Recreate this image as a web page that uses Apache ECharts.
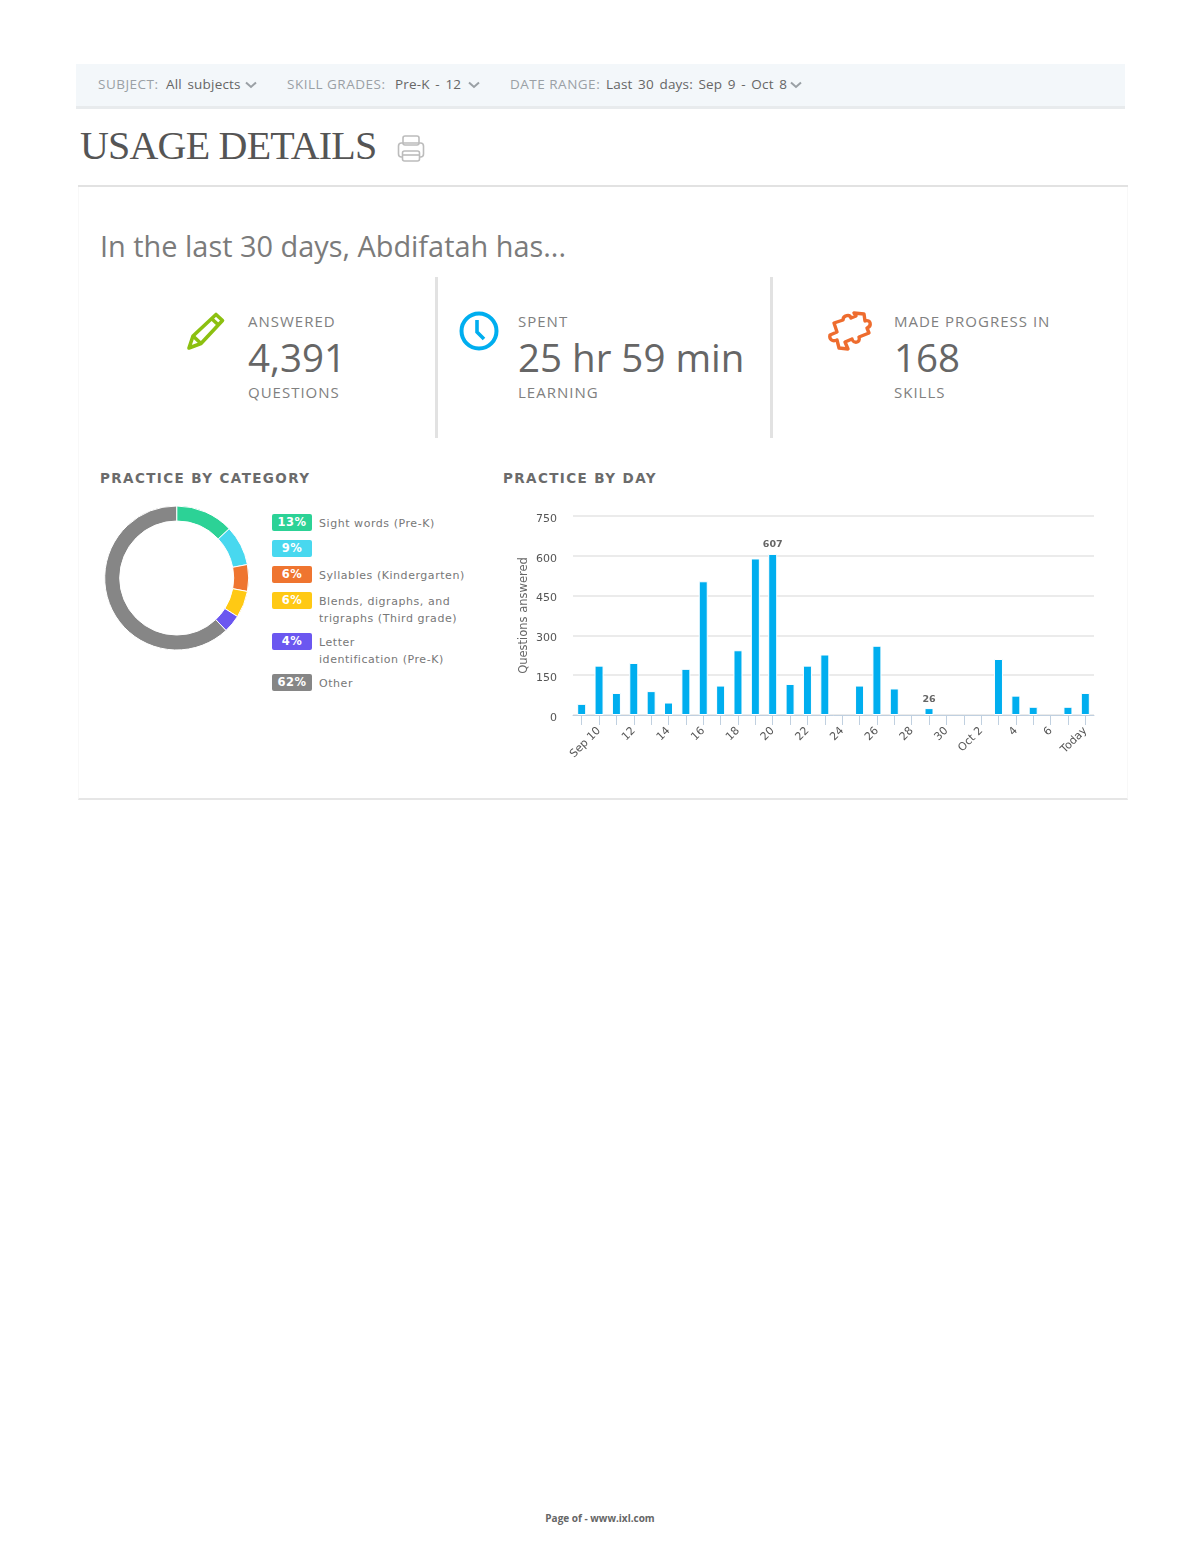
<!DOCTYPE html>
<html>
<head>
<meta charset="UTF-8">
<style>
html,body{margin:0;padding:0;background:#fff;}
body{position:relative;width:1200px;height:1553px;overflow:hidden;font-family:"Open Sans",sans-serif;color:#777;}
.t{position:absolute;white-space:nowrap;line-height:20px;}
.lab{font-size:15px;color:#808080;letter-spacing:1px;}
.num{font-size:38.5px;color:#666;line-height:44px;}
.fl{font-size:13.5px;color:#9aa0a5;letter-spacing:.5px;}
.fv{font-size:13.5px;color:#666;letter-spacing:.2px;word-spacing:1.8px;}
.head{font-weight:bold;color:#6b6b6b;letter-spacing:1.4px;font-family:"DejaVu Sans",sans-serif;font-size:13.5px;}
.box{position:absolute;}
.chip{position:absolute;left:272px;width:40px;height:17px;border-radius:2px;color:#fff;font-size:11.5px;font-weight:bold;line-height:17px;text-align:center;letter-spacing:.5px;font-family:"DejaVu Sans",sans-serif;}
.lg{position:absolute;left:319px;font-size:11px;line-height:17px;color:#777;letter-spacing:.55px;white-space:nowrap;font-family:"DejaVu Sans",sans-serif;}
svg{position:absolute;overflow:visible;}
</style>
</head>
<body>
<!-- filter bar -->
<div class="box" style="left:76px;top:64px;width:1049px;height:42px;background:#f3f7fa;border-bottom:3px solid #e8ebed;"></div>
<div class="t fl" style="left:98px;top:74px;">SUBJECT:</div>
<div class="t fv" style="left:166px;top:74px;">All subjects</div>
<div class="t fl" style="left:287px;top:74px;">SKILL GRADES:</div>
<div class="t fv" style="left:395px;top:74px;">Pre-K - 12</div>
<div class="t fl" style="left:510px;top:74px;">DATE RANGE:</div>
<div class="t fv" style="left:606px;top:74px;">Last 30 days: Sep 9 - Oct 8</div>
<svg style="left:245px;top:81px" width="12" height="8"><path d="M1 1.5 L6 6 L11 1.5" fill="none" stroke="#9aa0a5" stroke-width="2"/></svg>
<svg style="left:468px;top:81px" width="12" height="8"><path d="M1 1.5 L6 6 L11 1.5" fill="none" stroke="#9aa0a5" stroke-width="2"/></svg>
<svg style="left:790px;top:81px" width="12" height="8"><path d="M1 1.5 L6 6 L11 1.5" fill="none" stroke="#9aa0a5" stroke-width="2"/></svg>

<!-- title -->
<div class="t" style="left:80px;top:125px;line-height:42px;font-family:'Liberation Serif',serif;font-size:40px;letter-spacing:-.8px;color:#555;">USAGE DETAILS</div>
<svg style="left:397px;top:135px" width="28" height="28" fill="none" stroke="#bcbcbc" stroke-width="1.6">
  <rect x="6" y="1" width="16" height="9" rx="2"/>
  <rect x="1.5" y="8" width="25" height="14" rx="3"/>
  <rect x="5.5" y="16" width="17" height="10" rx="2" fill="#fff"/>
  <line x1="5.5" y1="20" x2="22.5" y2="20"/>
</svg>
<div class="box" style="left:78px;top:185px;width:1050px;height:2px;background:#e2e2e2;"></div>

<!-- panel -->
<div class="box" style="left:78px;top:187px;width:1048px;height:611px;border:1px solid #f8f8f8;border-top:none;border-bottom:2px solid #e6e6e6;"></div>
<div class="t" style="left:100px;top:226px;line-height:40px;font-size:28.9px;color:#7b7b7b;">In the last 30 days, Abdifatah has...</div>
<div class="box" style="left:435px;top:277px;width:3px;height:161px;background:#e2e2e2;"></div>
<div class="box" style="left:770px;top:277px;width:3px;height:161px;background:#e2e2e2;"></div>

<!-- pencil -->
<svg style="left:187px;top:312px" width="38" height="38" fill="none" stroke="#8cc010" stroke-width="3.6" stroke-linejoin="round">
  <path d="M29 2.5 L35.5 8.5 L14 31.5 L2 36 L6 24 Z"/>
  <path d="M25 7 L31.5 13"/>
  <path d="M6 24 L14 31.5"/>
</svg>
<div class="t lab" style="left:248px;top:311px;">ANSWERED</div>
<div class="t num" style="left:248px;top:335px;">4,391</div>
<div class="t lab" style="left:248px;top:382px;">QUESTIONS</div>

<!-- clock -->
<svg style="left:459px;top:311px" width="40" height="40" fill="none" stroke="#00aeef" stroke-width="4">
  <circle cx="20" cy="20" r="17.5"/>
  <path d="M18 9 L18 21 L25 28" stroke-width="3.6"/>
</svg>
<div class="t lab" style="left:518px;top:311px;">SPENT</div>
<div class="t num" style="left:518px;top:335px;">25 hr 59 min</div>
<div class="t lab" style="left:518px;top:382px;">LEARNING</div>

<!-- puzzle -->
<svg style="left:828px;top:312px" width="44" height="38" fill="none" stroke="#ee6c2e" stroke-width="3.4" stroke-linejoin="round">
  <path d="M2 23 L9 20 L6 11 L15 8 C15 3 22 2 23 6 L28 4 L26 1 L36 2 L37 9 C43 7 44 14 39 16 L41 21 L31 25 C33 31 25 32 24 27 L17 30 L20 37 L11 36 L9 28 C4 30 1 27 2 23 Z"/>
</svg>
<div class="t lab" style="left:894px;top:311px;">MADE PROGRESS IN</div>
<div class="t num" style="left:894px;top:335px;">168</div>
<div class="t lab" style="left:894px;top:382px;">SKILLS</div>

<div class="t head" style="left:100px;top:468px;">PRACTICE BY CATEGORY</div>
<div class="t head" style="left:503px;top:468px;">PRACTICE BY DAY</div>

<div id="donut_div" class="box" style="left:90px;top:495px;width:175px;height:170px;"></div>
<div id="legend_div"></div>
<div id="bar_div" class="box" style="left:500px;top:500px;width:640px;height:280px;"></div>

<div class="t" style="left:0;width:1200px;text-align:center;top:1508px;font-size:10px;font-weight:bold;color:#666;">Page of - www.ixl.com</div>

<script src="https://cdn.jsdelivr.net/npm/echarts@6/dist/echarts.min.js"></script>
<script>
var days = ['Sep 9','Sep 10','11','12','13','14','15','16','17','18','19','20','21','22','23','24','25','26','27','28','29','30','Oct 1','Oct 2','3','4','5','6','7','Today'];
var answered = [42,186,83,196,90,47,174,504,111,244,590,607,117,186,228,0,111,261,100,0,26,0,0,0,211,73,31,0,31,83];
var labelledDays = [11,20];
var yTicks = [0,150,300,450,600,750];

var catPercents = [13,9,6,6,4,62];
var catNames = ['Sight words (Pre-K)','','Syllables (Kindergarten)','Blends, digraphs, and<br>trigraphs (Third grade)','Letter<br>identification (Pre-K)','Other'];
var catColors = ['#2cd296','#48d8ef','#ef7530','#ffc914','#6b57f0','#868686'];
var chipTops = [514,540,566,592,633,674];

// legend
var legend = document.getElementById('legend_div');
catPercents.forEach(function(p,i){
	var chip = document.createElement('div');
	chip.className = 'chip';
	chip.style.top = chipTops[i]+'px';
	chip.style.background = catColors[i];
	chip.textContent = p+'%';
	legend.appendChild(chip);
	var txt = document.createElement('div');
	txt.className = 'lg';
	txt.style.top = (chipTops[i]+0.5)+'px';
	txt.innerHTML = catNames[i];
	legend.appendChild(txt);
});

var donut = echarts.init(document.getElementById('donut_div'));
donut.setOption({
	animation:false,
	series:[{
		type:'pie',
		center:[86.7,83],
		radius:[57,72],
		startAngle:90,
		label:{show:false},
		labelLine:{show:false},
		itemStyle:{borderColor:'#fff',borderWidth:1},
		data:catPercents.map(function(p,i){
			return {value:p,name:catNames[i]||'Category',itemStyle:{color:catColors[i]}};
		})
	}]
});

var bar = echarts.init(document.getElementById('bar_div'));
bar.setOption({
	animation:false,
	grid:{left:73,right:46,top:16,bottom:65},
	xAxis:{
		type:'category',
		data:days,
		axisLine:{lineStyle:{color:'#c0d0e0',width:1}},
		axisTick:{show:true,alignWithLabel:true,length:10,interval:0,lineStyle:{color:'#c0d0e0',width:1}},
		axisLabel:{
			rotate:45,
			margin:14,
			fontSize:11,
			color:'#555',
			fontFamily:'DejaVu Sans',
			hideOverlap:false,
			interval:function(i){return i%2==1;}
		}
	},
	yAxis:{
		type:'value',
		min:yTicks[0],
		max:yTicks[yTicks.length-1],
		interval:150,
		name:'Questions answered',
		nameLocation:'middle',
		nameGap:43,
		nameMoveOverlap:false,
		nameTextStyle:{fontSize:11.5,color:'#666',fontFamily:'DejaVu Sans'},
		axisLine:{show:false},
		axisTick:{show:false},
		axisLabel:{fontSize:11,color:'#555',fontFamily:'DejaVu Sans',margin:16,verticalAlign:'top',lineHeight:6},
		splitLine:{lineStyle:{color:'#e4e4e4',width:1.6}}
	},
	series:[{
		type:'bar',
		// zero days keep no white outline so the axis line stays unbroken
		data:answered.map(function(v){
			return {value:v,itemStyle:{borderWidth:v>0?1:0}};
		}),
		barWidth:9,
		itemStyle:{color:'#00aeef',borderColor:'#fff'},
		label:{
			show:true,
			position:'top',
			distance:4,
			fontSize:9.5,
			fontWeight:'bold',
			color:'#666',
			fontFamily:'DejaVu Sans',
			formatter:function(p){return labelledDays.indexOf(p.dataIndex)>=0 ? p.value : '';}
		}
	}]
});
</script>
</body>
</html>
